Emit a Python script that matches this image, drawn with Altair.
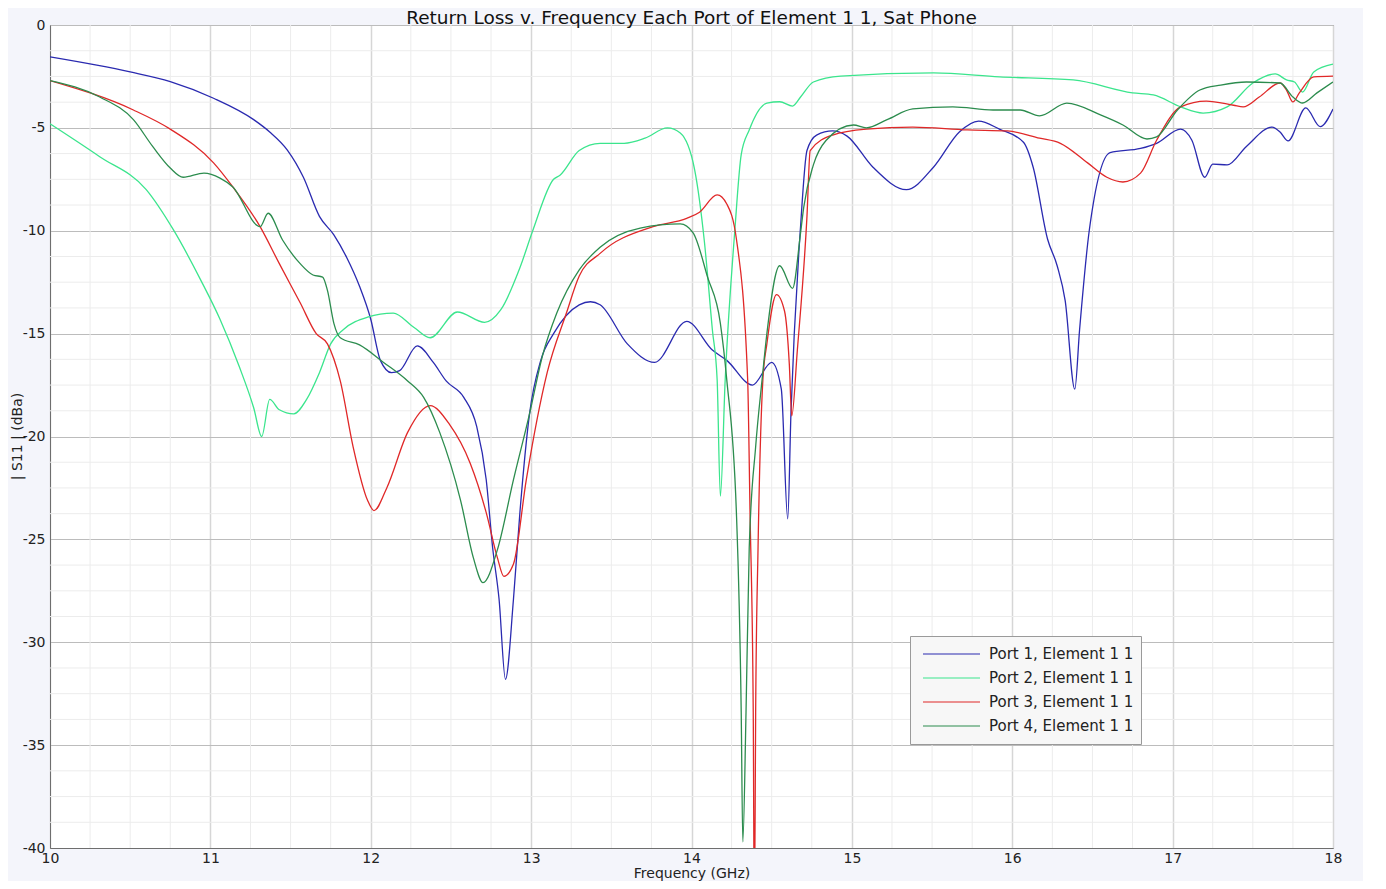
import altair as alt
import pandas as pd

PORTS = ["Port 1, Element 1 1", "Port 2, Element 1 1", "Port 3, Element 1 1", "Port 4, Element 1 1"]
COLORS = ["#2a2ab0", "#3be58d", "#e02828", "#2c8c4e"]

F1 = [10.0, 10.5, 10.75, 11.02, 11.27, 11.37, 11.48, 11.58, 11.68, 11.77, 11.85, 11.93, 12.0, 12.06,
      12.13, 12.18, 12.29, 12.39, 12.47, 12.58, 12.66, 12.72, 12.76, 12.80, 12.84, 12.89, 12.93, 12.99, 13.06,
      13.14, 13.30, 13.37, 13.43, 13.6, 13.77, 13.97, 14.13, 14.22, 14.38, 14.50, 14.56, 14.60, 14.62, 14.68,
      14.72, 14.78, 14.88, 14.97, 15.13, 15.34, 15.51, 15.67, 15.79, 15.92, 16.07, 16.13, 16.22, 16.28, 16.33,
      16.39, 16.42, 16.48, 16.61, 16.80, 16.90, 17.05, 17.12, 17.20, 17.25, 17.34, 17.46, 17.62, 17.67, 17.72,
      17.83, 17.92, 18.0]
Y1 = [-1.55, -2.28, -2.75, -3.56, -4.6, -5.2, -6.08, -7.4, -9.3, -10.2, -11.3, -12.7, -14.3, -16.3,
      -16.9, -16.8, -15.6, -16.4, -17.3, -18.1, -19.5, -22.1, -25.4, -27.9, -31.8, -27.9, -23.7, -18.9, -16.3,
      -15.0, -13.6, -13.45, -13.6, -15.5, -16.4, -14.4, -15.8, -16.3, -17.5, -16.4, -17.7, -24.0, -18.9, -9.8,
      -6.1, -5.35, -5.15, -5.4, -6.9, -8.0, -6.9, -5.2, -4.67, -5.06, -5.7, -6.9, -10.4, -11.7, -13.4,
      -17.7, -14.8, -10.0, -6.2, -6.0, -5.75, -5.06, -5.6, -7.4, -6.76, -6.8, -5.9, -4.96, -5.2, -5.63,
      -4.03, -4.94, -4.08]

F2 = [10.0, 10.31, 10.6, 10.77, 10.94, 11.06, 11.18, 11.27, 11.32, 11.37, 11.43, 11.52, 11.6, 11.68, 11.75,
      11.83, 11.98, 12.14, 12.27, 12.37, 12.54, 12.71, 12.81, 12.93, 13.01, 13.14, 13.18, 13.3, 13.43, 13.58,
      13.71, 13.85, 13.93, 14.02, 14.08, 14.13, 14.16, 14.18, 14.21, 14.27, 14.31, 14.36, 14.47, 14.55, 14.63,
      14.68, 14.76, 14.93, 15.51, 15.92, 16.38, 16.75, 16.88, 17.05, 17.19, 17.34, 17.5, 17.64, 17.71, 17.76,
      17.81, 17.88, 18.0]
Y2 = [-4.8, -6.4, -8.0, -9.96, -12.4, -14.3, -16.6, -18.6, -20.0, -18.2, -18.7, -18.9, -18.2, -16.9, -15.5,
      -14.8, -14.2, -14.0, -14.7, -15.2, -13.95, -14.45, -13.85, -11.8, -10.0, -7.5, -7.3, -6.1, -5.75, -5.75,
      -5.5, -5.0, -5.25, -7.05, -10.5, -14.8, -17.25, -22.9, -17.25, -10.0, -6.3, -5.1, -3.8, -3.73, -3.94,
      -3.5, -2.77, -2.48, -2.33, -2.52, -2.67, -3.3, -3.4, -3.98, -4.28, -3.98, -2.82, -2.38, -2.67, -2.77,
      -3.26, -2.28, -1.9]

F3 = [10.0, 10.52, 10.75, 11.02, 11.14, 11.31, 11.43, 11.56, 11.66, 11.73, 11.81, 11.89, 11.98, 12.02, 12.1,
      12.23, 12.37, 12.49, 12.62, 12.72, 12.79, 12.83, 12.89, 12.97, 13.1, 13.22, 13.3, 13.43, 13.76, 13.97,
      14.05, 14.16, 14.22, 14.28, 14.35, 14.365, 14.385, 14.392, 14.40, 14.415, 14.445, 14.47, 14.53, 14.58, 14.61,
      14.625, 14.66, 14.72, 14.74, 14.88, 15.09, 15.38, 15.72, 15.97, 16.17, 16.3, 16.47, 16.59, 16.69, 16.8,
      16.9, 17.05, 17.21, 17.38, 17.44, 17.54, 17.67, 17.71, 17.75, 17.79, 17.88, 18.0]
Y3 = [-2.7, -4.13, -5.06, -6.7, -7.87, -9.8, -11.6, -13.5, -15.0, -15.5, -17.3, -20.5, -23.1, -23.6, -22.5,
      -19.8, -18.5, -19.4, -21.3, -23.7, -25.9, -26.8, -26.2, -22.1, -16.9, -14.0, -12.2, -11.1, -9.8, -9.4,
      -9.1, -8.26, -8.7, -10.4, -17.2, -23.7, -33.4, -44.0, -33.4, -25.4, -17.25, -15.5, -13.1, -13.9, -16.5,
      -19.0, -15.8, -9.3, -6.1, -5.35, -5.06, -4.96, -5.1, -5.15, -5.5, -5.75, -6.7, -7.4, -7.63, -7.2,
      -5.6, -3.98, -3.7, -3.9, -3.98, -3.5, -2.82, -3.16, -3.74, -3.3, -2.52, -2.48]

F4 = [10.0, 10.31, 10.52, 10.64, 10.75, 10.83, 10.96, 11.06, 11.14, 11.31, 11.36, 11.45, 11.56, 11.64, 11.70,
      11.73, 11.77, 11.81, 11.93, 12.08, 12.23, 12.33, 12.43, 12.56, 12.64, 12.70, 12.79, 12.89, 12.99, 13.07,
      13.16, 13.3, 13.43, 13.68, 13.93, 14.01, 14.1, 14.18, 14.22, 14.28, 14.31, 14.32, 14.34, 14.36, 14.40,
      14.44, 14.47, 14.55, 14.63, 14.68, 14.70, 14.76, 14.84, 15.01, 15.09, 15.22, 15.38, 15.63, 15.88, 16.05,
      16.17, 16.34, 16.55, 16.69, 16.84, 16.9, 17.03, 17.17, 17.3, 17.46, 17.67, 17.75, 17.81, 17.9, 18.0]
Y4 = [-2.7, -3.5, -4.6, -5.9, -6.95, -7.4, -7.2, -7.44, -7.87, -9.8, -9.15, -10.45, -11.6, -12.15, -12.25,
      -12.9, -14.5, -15.2, -15.55, -16.4, -17.3, -18.1, -19.8, -23.1, -25.9, -27.1, -25.5, -22.1, -18.9, -16.1,
      -14.0, -11.9, -10.8, -9.87, -9.67, -10.1, -12.25, -14.5, -17.25, -23.7, -33.4, -39.7, -33.4, -25.4, -20.5,
      -17.25, -15.0, -11.7, -12.8, -10.1, -8.85, -6.8, -5.6, -4.86, -5.0, -4.6, -4.08, -3.98, -4.13, -4.13,
      -4.42, -3.8, -4.37, -4.86, -5.54, -5.44, -4.13, -3.16, -2.92, -2.77, -2.82, -3.5, -3.79, -3.3, -2.77]

X_MAJOR = [10, 11, 12, 13, 14, 15, 16, 17, 18]
Y_MAJOR = [0, -5, -10, -15, -20, -25, -30, -35, -40]
X_MINOR = [10.25, 10.5, 10.75, 11.25, 11.5, 11.75, 12.25, 12.5, 12.75, 13.25, 13.5, 13.75, 14.25, 14.5,
           14.75, 15.25, 15.5, 15.75, 16.25, 16.5, 16.75, 17.25, 17.5, 17.75]
Y_MINOR = [-1.25, -2.5, -3.75, -6.25, -7.5, -8.75, -11.25, -12.5, -13.75, -16.25, -17.5, -18.75, -21.25,
           -22.5, -23.75, -26.25, -27.5, -28.75, -31.25, -32.5, -33.75, -36.25, -37.5, -38.75]

rows = []
for name, fs, ys in zip(PORTS, [F1, F2, F3, F4], [Y1, Y2, Y3, Y4]):
    for i, (f, y) in enumerate(zip(fs, ys)):
        rows.append({"port": name, "f": f, "s": y, "i": i})
df = pd.DataFrame(rows)

FONT = "DejaVu Sans"
x_scale = alt.Scale(domain=[10, 18], nice=False, zero=False)
y_scale = alt.Scale(domain=[-40, 0], nice=False, zero=False)

x_axis = alt.Axis(values=X_MAJOR, grid=True, gridColor="#d6d6d6", gridWidth=1.5, ticks=False,
                  domainColor="#6e6e6e", labelFont=FONT, labelFontSize=14, labelColor="#222",
                  labelPadding=3, labelFlush=False, labelExpr="'' + datum.value",
                  title="Frequency (GHz)", titleFont=FONT,
                  titleFontSize=14, titleFontWeight="normal", titleColor="#222", titlePadding=1)
y_axis = alt.Axis(values=Y_MAJOR, grid=True, gridColor="#bcbcbc", gridWidth=1, ticks=False,
                  domainColor="#6e6e6e", labelFont=FONT, labelFontSize=14, labelColor="#222",
                  labelPadding=5, labelFlush=False, labelExpr="'' + datum.value",
                  title="| S11 | (dBa)", titleFont=FONT,
                  titleFontSize=14, titleFontWeight="normal", titleColor="#222",
                  titleX=-33, titleY=411, titleAngle=270, titleAlign="center", titleBaseline="middle")

minor_x = alt.Chart(pd.DataFrame({"f": X_MINOR})).mark_rule(color="#ececec", strokeWidth=1).encode(
    x=alt.X("f:Q", scale=x_scale, axis=x_axis))
minor_y = alt.Chart(pd.DataFrame({"s": Y_MINOR})).mark_rule(color="#ececec", strokeWidth=1).encode(
    y=alt.Y("s:Q", scale=y_scale, axis=y_axis))

lines = alt.Chart(df).mark_line(interpolate="monotone", strokeWidth=1.3, clip=True).encode(
    x=alt.X("f:Q", scale=x_scale, axis=x_axis),
    y=alt.Y("s:Q", scale=y_scale, axis=y_axis),
    order="i:Q",
    color=alt.Color("port:N", scale=alt.Scale(domain=PORTS, range=COLORS),
                    legend=alt.Legend(orient="none", legendX=860, legendY=611, title=None,
                                      fillColor="#f7f7f7", strokeColor="#9a9a9a", padding=7,
                                      symbolType="stroke", symbolSize=3249, symbolStrokeWidth=1.2,
                                      clipHeight=22, rowPadding=2, labelFont=FONT, labelFontSize=15,
                                      labelColor="#222", labelOffset=8, symbolOffset=5, labelLimit=300)),
)

chart = alt.layer(minor_x, minor_y, lines).properties(
    width=1283, height=823,
    title=alt.TitleParams("Return Loss v. Frequency Each Port of  Element 1 1, Sat Phone",
                          font=FONT, fontSize=18.5, fontWeight="normal", color="#111", offset=4, dy=13),
    padding={"left": 42, "top": 17, "right": 30, "bottom": 33},
    autosize=alt.AutoSizeParams(type="none"),
    background="#f4f5fb",
).configure_view(stroke="#6e6e6e", strokeWidth=1, fill="white")

chart.save("out.html", embed_options={"renderer": "svg", "actions": False})
